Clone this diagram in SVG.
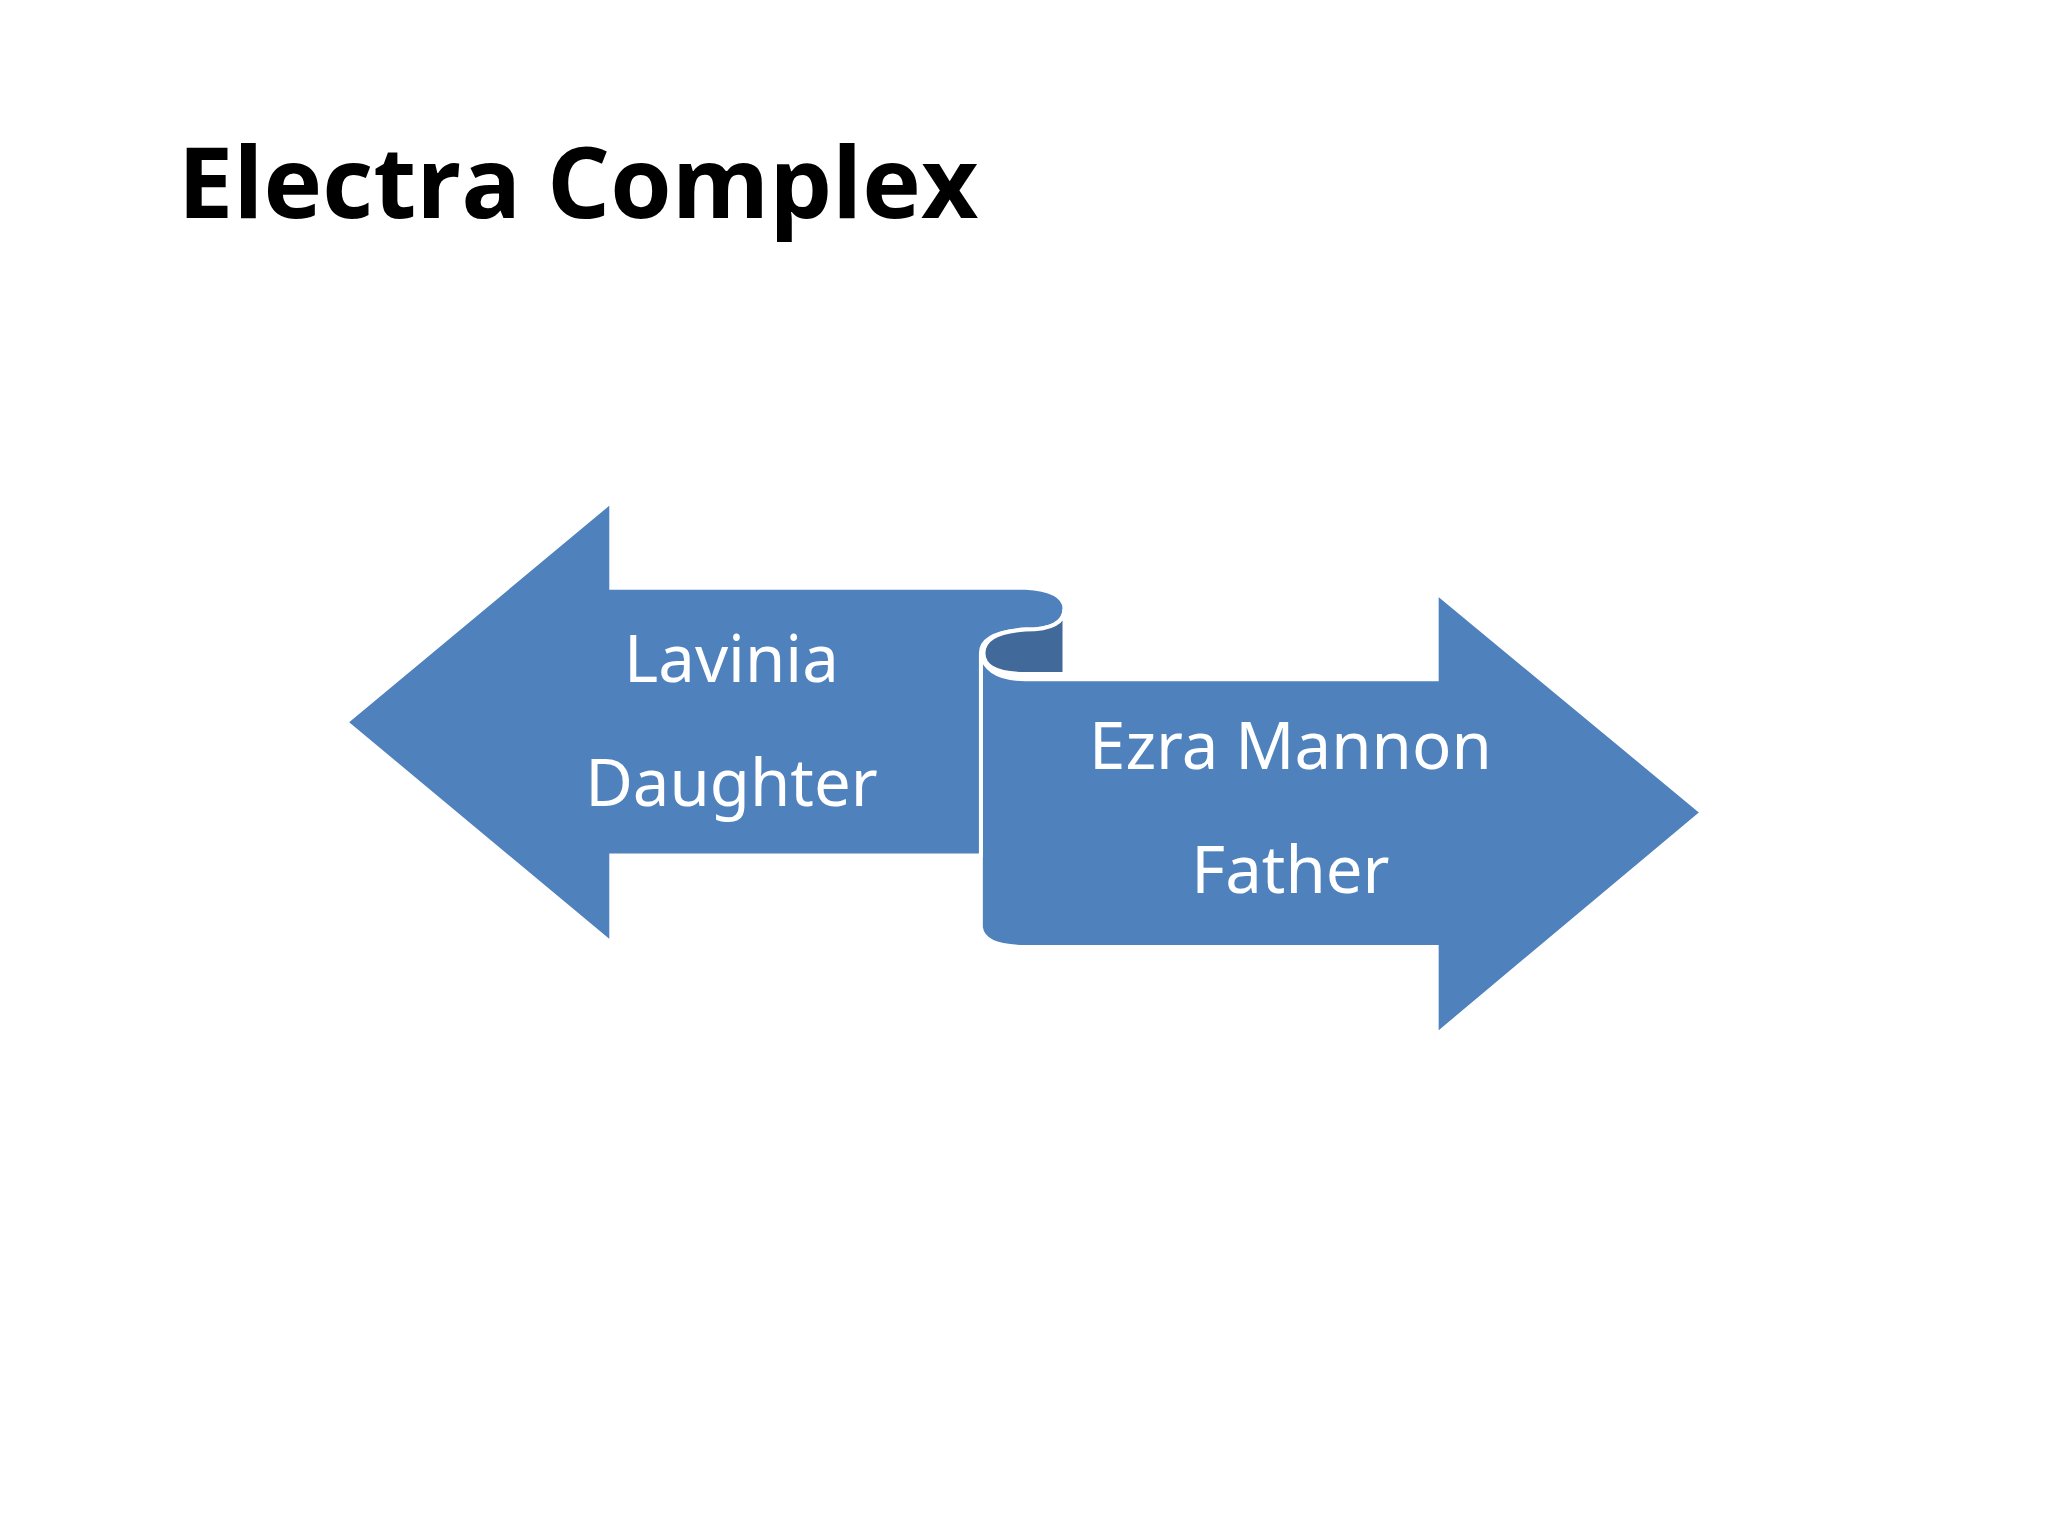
<svg xmlns="http://www.w3.org/2000/svg" width="2048" height="1536" viewBox="0 0 2048 1536">
<style>
.a{fill:#4F81BD;stroke:#fff;stroke-width:3}
.d{fill:#41699A;stroke:#fff;stroke-width:3}
.t{font-family:"Noto Sans","Open Sans",sans-serif;fill:#fff;font-size:50px;text-anchor:middle}
</style>
<rect width="2048" height="1536" fill="#fff"/>
<g transform="scale(1.3061)">
<text x="136" y="167" font-family="Open Sans,Noto Sans,sans-serif" font-weight="bold" font-size="76" fill="#000">Electra Complex</text>
<g id="right-arrow">
<path class="a" d="M785,520 L1100,520 L1100,454 L1303,622 L1100,792 L1100,725 L785,725 Q753,725 751,710 L751,500 Q755,520 785,520 Z"/>
</g>
<g id="left-arrow">
<path class="a" d="M751,655 L468,655 L468,722 L265,553 L468,384 L468,450 L785,450 Q815,452 815,466 Q815,482 785,482 Q751,484 751,500 Z"/>
<path class="d" d="M785,482 Q815,482 815,466 L815,516 L785,516 Q753,516 753,500 Q753,484 785,482 Z"/>
</g>
<g id="labels">
<text class="t" x="560" y="522">Lavinia</text>
<text class="t" x="560" y="617">Daughter</text>
<text class="t" x="988" y="589">Ezra Mannon</text>
<text class="t" x="988" y="684">Father</text>
</g>
<g id="connectors"/>
</g>
</svg>
